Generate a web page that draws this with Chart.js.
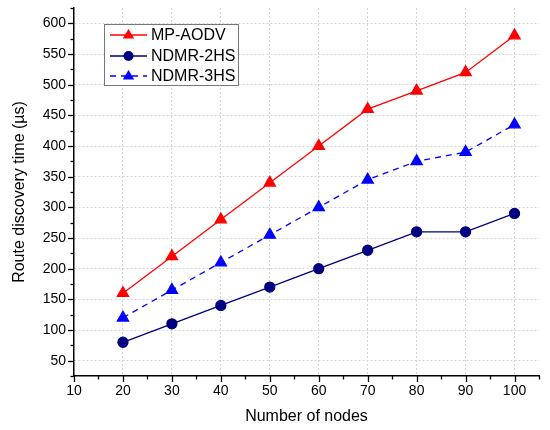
<!DOCTYPE html>
<html><head><meta charset="utf-8">
<script src="https://cdn.jsdelivr.net/npm/chart.js@4"></script>
<style>body{margin:0;background:#fff}canvas{display:block}</style>
</head><body>
<canvas id="c" width="550" height="430"></canvas>
<script>
const nodes = [20, 30, 40, 50, 60, 70, 80, 90, 100];
const mpAodv = [160, 220, 280, 340, 400, 460, 490, 520, 580];
const ndmr2hs = [80, 110, 140, 170, 200, 230, 260, 260, 290];
const ndmr3hs = [120, 165, 210, 255, 300, 345, 375, 390, 435];
const seriesNames = ['MP-AODV', 'NDMR-2HS', 'NDMR-3HS'];
const xTickLabels = [10, 20, 30, 40, 50, 60, 70, 80, 90, 100];
const yTickLabels = [50, 100, 150, 200, 250, 300, 350, 400, 450, 500, 550, 600];

const FONT = '"Liberation Sans", Arial, sans-serif';
const toPts = ys => nodes.map((x, i) => ({x, y: ys[i]}));

const tickPlugin = {
  id: 'ticksAndLegend',
  afterDraw(chart) {
    const ctx = chart.ctx;
    const xs = chart.scales.x, ys = chart.scales.y;
    const area = chart.chartArea;
    ctx.save();
    ctx.strokeStyle = '#000';
    ctx.lineWidth = 1.3;
    for (let v = 10; v <= 105; v += 5) {
      const px = Math.round(xs.getPixelForValue(v)) + 0.5;
      const len = (v % 10 === 0) ? 6 : 3.5;
      ctx.beginPath(); ctx.moveTo(px, area.bottom); ctx.lineTo(px, area.bottom + len); ctx.stroke();
    }
    for (let v = 25; v <= 625; v += 25) {
      const py = Math.round(ys.getPixelForValue(v)) + 0.5;
      const len = (v % 50 === 0) ? 6 : 3.5;
      ctx.beginPath(); ctx.moveTo(area.left, py); ctx.lineTo(area.left - len, py); ctx.stroke();
    }
    // legend
    const bx = 104.5, by = 24.5, bw = 134, bh = 61;
    ctx.fillStyle = '#fff';
    ctx.fillRect(bx, by, bw, bh);
    ctx.strokeStyle = '#777';
    ctx.lineWidth = 1;
    ctx.strokeRect(bx, by, bw, bh);
    const rows = [35, 56, 76];
    chart.data.datasets.forEach((ds, i) => {
      const y = rows[i];
      ctx.strokeStyle = ds.borderColor;
      ctx.lineWidth = 1.3;
      ctx.setLineDash(ds.borderDash || []);
      ctx.beginPath(); ctx.moveTo(110, y); ctx.lineTo(147, y); ctx.stroke();
      ctx.setLineDash([]);
      ctx.fillStyle = ds.pointBackgroundColor;
      if (ds.pointStyle === 'triangle') {
        const r = 6;
        ctx.beginPath();
        ctx.moveTo(128.5, y - r);
        ctx.lineTo(128.5 + r * 0.95, y + r * 0.6);
        ctx.lineTo(128.5 - r * 0.95, y + r * 0.6);
        ctx.closePath(); ctx.fill();
      } else {
        ctx.beginPath(); ctx.arc(128.5, y, 5, 0, Math.PI * 2); ctx.fill();
      }
      ctx.fillStyle = '#000';
      ctx.font = '16px ' + FONT;
      ctx.textBaseline = 'middle';
      ctx.textAlign = 'left';
      ctx.fillText(ds.label, 151, y + 1);
    });
    ctx.restore();
  }
};

new Chart(document.getElementById('c'), {
  type: 'line',
  data: {
    datasets: [
      {label: seriesNames[0], data: toPts(mpAodv), borderColor: '#ff0000', backgroundColor: '#ff0000',
       pointBackgroundColor: '#ff0000', pointBorderColor: '#ff0000', pointStyle: 'triangle', pointRadius: 6.5,
       borderWidth: 1.3, fill: false, tension: 0},
      {label: seriesNames[1], data: toPts(ndmr2hs), borderColor: '#000080', backgroundColor: '#000080',
       pointBackgroundColor: '#000080', pointBorderColor: '#000080', pointStyle: 'circle', pointRadius: 5,
       borderWidth: 1.3, fill: false, tension: 0},
      {label: seriesNames[2], data: toPts(ndmr3hs), borderColor: '#0000ff', backgroundColor: '#0000ff',
       pointBackgroundColor: '#0000ff', pointBorderColor: '#0000ff', pointStyle: 'triangle', pointRadius: 6.5,
       borderWidth: 1.3, borderDash: [6, 5], fill: false, tension: 0}
    ]
  },
  options: {
    responsive: false,
    animation: false,
    layout: {padding: {top: 8, right: 11, left: 0, bottom: 0}},
    plugins: {legend: {display: false}, tooltip: {enabled: false}},
    scales: {
      x: {
        type: 'linear', min: 10, max: 105,
        afterBuildTicks: s => { s.ticks = xTickLabels.map(v => ({value: v})); },
        afterFit: s => { s.height = 54; s.paddingLeft = 0; s.paddingRight = 0; },
        ticks: {color: '#000', font: {size: 14, family: FONT}, padding: 7, maxRotation: 0,
                callback: v => String(v)},
        grid: {drawTicks: false, color: ctx => ctx.tick && ctx.tick.value === 10 ? 'rgba(0,0,0,0)' : '#d4d4d4',
               lineWidth: 1},
        border: {color: '#000', width: 1.5, dash: [2, 2]},
        title: {display: true, text: 'Number of nodes', color: '#000', font: {size: 16, family: FONT}, padding: {top: 2}}
      },
      y: {
        type: 'linear', min: 25, max: 625,
        afterBuildTicks: s => { s.ticks = yTickLabels.map(v => ({value: v})); },
        afterFit: s => { s.width = 74; s.paddingTop = 0; s.paddingBottom = 0; },
        ticks: {color: '#000', font: {size: 14, family: FONT}, padding: 8, callback: v => String(v)},
        grid: {drawTicks: false, color: '#d4d4d4', lineWidth: 1},
        border: {color: '#000', width: 1.5, dash: [2, 2]},
        title: {display: true, text: 'Route discovery time (µs)', color: '#000', font: {size: 16, family: FONT}, padding: {top: 10, bottom: 0}}
      }
    }
  },
  plugins: [tickPlugin]
});
</script>
</body></html>
